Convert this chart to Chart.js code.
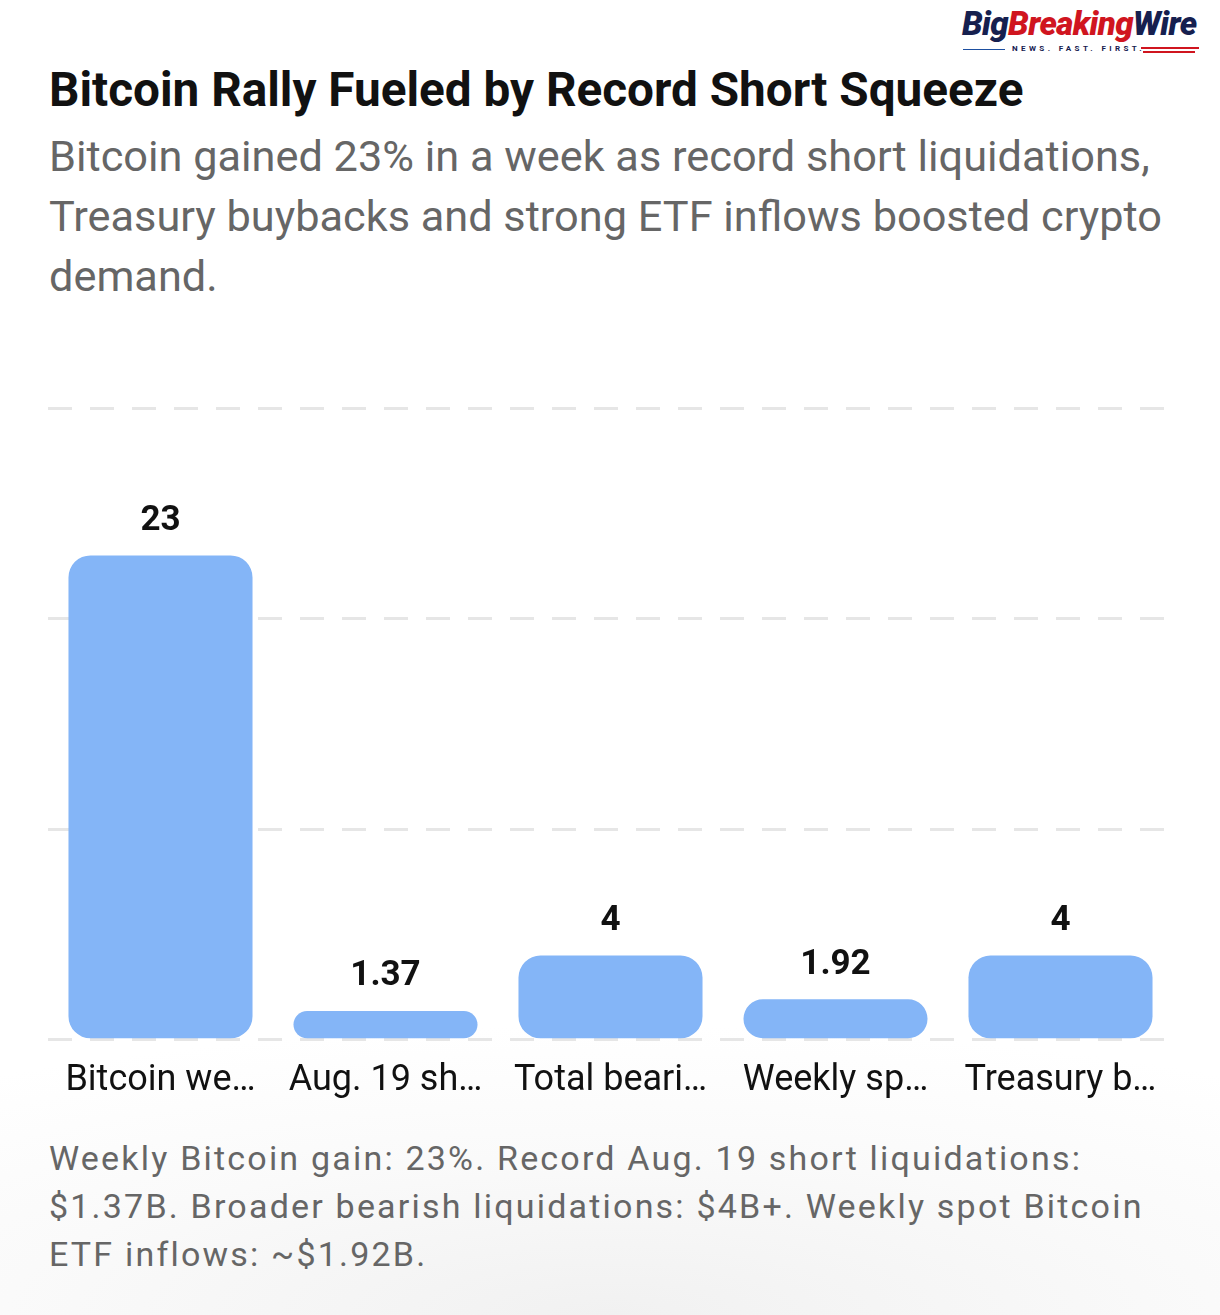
<!DOCTYPE html>
<html>
<head>
<meta charset="utf-8">
<script src="https://cdn.jsdelivr.net/npm/chart.js@4.4.1/dist/chart.umd.min.js"></script>
<style>
    html, body {
        margin: 0;
        padding: 0;
    }
    body {
        width: 1220px;
        height: 1315px;
        position: relative;
        overflow: hidden;
        font-family: Roboto, "Noto Sans", sans-serif;
        background: radial-gradient(ellipse 90% 22% at 50% 100%, #f1f1f1 0%, #fafafa 55%, #ffffff 100%);
    }
    .logo {
        position: absolute;
        left: 962px;
        top: 5px;
        width: 250px;
        font-weight: 900;
        font-style: italic;
        font-size: 33px;
        letter-spacing: -0.6px;
        line-height: 38px;
        white-space: nowrap;
    }
    .logo .navy { color: #16204f; }
    .logo .red { color: #d0151f; }
    .tagline {
        position: absolute;
        left: 963px;
        top: 43px;
        width: 236px;
        height: 12px;
    }
    .tagline span {
        position: absolute;
        left: 49px;
        top: 0;
        font-size: 8px;
        font-weight: 700;
        letter-spacing: 3.4px;
        color: #16204f;
        line-height: 12px;
        white-space: nowrap;
    }
    .tagline .bl {
        position: absolute; left: 0; top: 6px; width: 42px; height: 1px; background: #1d4fa0;
    }
    .tagline .rl {
        position: absolute; height: 1.5px; background: #d0151f;
    }
    h1 {
        position: absolute;
        left: 49px;
        top: 61px;
        margin: 0;
        font-size: 47.7px;
        font-weight: 700;
        letter-spacing: 0;
        color: #111;
        line-height: 58px;
        white-space: nowrap;
    }
    .sub {
        position: absolute;
        left: 49px;
        top: 127px;
        width: 1150px;
        font-size: 43.3px;
        line-height: 60px;
        color: #666;
    }
    #wrap {
        position: absolute;
        left: 48px;
        top: 406px;
        width: 1125px;
        height: 709px;
    }
    .foot {
        position: absolute;
        left: 49px;
        top: 1134px;
        width: 1110px;
        font-size: 34px;
        line-height: 48px;
        letter-spacing: 2.2px;
        color: #666;
    }
</style>
</head>
<body>
<div class="logo"><span class="navy">Big</span><span class="red">Breaking</span><span class="navy">Wire</span></div>
<div class="tagline">
    <div class="bl"></div>
    <span>NEWS. FAST. FIRST.</span>
    <div class="rl" style="left:178px;top:4px;width:58px;"></div>
    <div class="rl" style="left:180px;top:8px;width:52px;"></div>
</div>
<h1>Bitcoin Rally Fueled by Record Short Squeeze</h1>
<div class="sub">Bitcoin gained 23% in a week as record short liquidations, Treasury buybacks and strong ETF inflows boosted crypto demand.</div>
<div id="wrap"><canvas id="chart"></canvas></div>
<div class="foot">Weekly Bitcoin gain: 23%. Record Aug. 19 short liquidations: $1.37B. Broader bearish liquidations: $4B+. Weekly spot Bitcoin ETF inflows: ~$1.92B.</div>

<script>
    'use strict';

    // Chart data
    const categories = [
        'Bitcoin weekly gain (%)',
        'Aug. 19 short liquidations ($B)',
        'Total bearish liquidations ($B)',
        'Weekly spot ETF inflows ($B)',
        'Treasury buybacks ($B)'
    ];
    // Labels as they appear (cut short) under the bars
    const tickLabels = ['Bitcoin we…', 'Aug. 19 sh…', 'Total beari…', 'Weekly sp…', 'Treasury b…'];
    const values = [23, 1.37, 4, 1.92, 4];
    const yTicks = [0, 10, 20, 30];

    const barColor = '#84b5f7';

    // Draw values above each bar
    const valueLabels = {
        id: 'valueLabels',
        afterDatasetsDraw(chart) {
            const ctx = chart.ctx;
            const meta = chart.getDatasetMeta(0);
            ctx.save();
            ctx.font = 'bold 35px Roboto';
            ctx.fillStyle = '#111';
            ctx.textAlign = 'center';
            ctx.textBaseline = 'bottom';
            meta.data.forEach(function (bar, i) {
                ctx.fillText(String(values[i]), bar.x, bar.y - 17);
            });
            ctx.restore();
        }
    };

    const config = {
        type: 'bar',
        data: {
            labels: categories,
            datasets: [{
                data: values,
                backgroundColor: barColor,
                borderRadius: 22,
                borderSkipped: false,
                categoryPercentage: 1,
                barPercentage: 0.818
            }]
        },
        options: {
            responsive: true,
            maintainAspectRatio: false,
            animation: false,
            layout: {
                padding: { top: 2, left: 0, right: 0, bottom: 0 }
            },
            plugins: {
                legend: { display: false },
                tooltip: { enabled: false }
            },
            scales: {
                x: {
                    grid: { display: false },
                    border: { display: false },
                    ticks: {
                        color: '#111',
                        padding: 12,
                        maxRotation: 0,
                        autoSkip: false,
                        font: { family: 'Roboto', size: 36 },
                        callback: function (value, index) {
                            return tickLabels[index];
                        }
                    }
                },
                y: {
                    min: yTicks[0],
                    max: yTicks[yTicks.length - 1],
                    afterBuildTicks: function (axis) {
                        axis.ticks = yTicks.map(function (v) { return { value: v }; });
                    },
                    afterFit: function (axis) {
                        axis.width = 0;
                    },
                    ticks: { display: false },
                    grid: {
                        color: '#e6e6e6',
                        lineWidth: 3,
                        drawTicks: false
                    },
                    border: {
                        display: false,
                        dash: [24, 18]
                    }
                }
            }
        },
        plugins: [valueLabels]
    };

    new Chart(document.getElementById('chart'), config);
</script>
</body>
</html>
